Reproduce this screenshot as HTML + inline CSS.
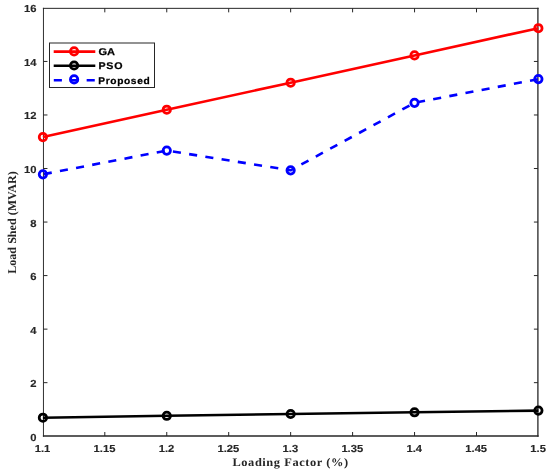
<!DOCTYPE html>
<html>
<head>
<meta charset="utf-8">
<style>
html,body{margin:0;padding:0;background:#fff;width:550px;height:473px;overflow:hidden;}
svg{display:block;} text{text-rendering:geometricPrecision;}
.tk{font-family:"Liberation Sans",Arial,sans-serif;font-weight:bold;font-size:10.2px;fill:#262626;stroke:#262626;stroke-width:0.15px;}
.lg{font-family:"Liberation Sans",Arial,sans-serif;font-weight:bold;font-size:9.7px;fill:#000;stroke:#000;stroke-width:0.25px;}
.ax{font-family:"Liberation Serif","Times New Roman",serif;font-weight:bold;font-size:12px;fill:#262626;}
</style>
</head>
<body>
<svg width="550" height="473" viewBox="0 0 550 473">
<rect x="0" y="0" width="550" height="473" fill="#fff"/>

<!-- axes box -->
<g stroke="#262626" fill="none">
<line x1="43.46" y1="7.85" x2="43.46" y2="436.7" stroke-width="0.95"/>
<line x1="42.9" y1="8.35" x2="538.6" y2="8.35" stroke-width="1"/>
<line x1="42.9" y1="436" x2="538.6" y2="436" stroke-width="1.35"/>
<line x1="537.9" y1="7.85" x2="537.9" y2="436.7" stroke-width="1.3"/>
<path stroke-width="1" d="M104.80,436v-4M166.75,436v-4M228.70,436v-4M290.65,436v-4M352.60,436v-4M414.55,436v-4M476.50,436v-4M104.80,8.35v4M166.75,8.35v4M228.70,8.35v4M290.65,8.35v4M352.60,8.35v4M414.55,8.35v4M476.50,8.35v4M43.46,382.66h4M43.46,329.13h4M43.46,275.59h4M43.46,222.06h4M43.46,168.52h4M43.46,114.98h4M43.46,61.45h4M537.9,382.66h-4M537.9,329.13h-4M537.9,275.59h-4M537.9,222.06h-4M537.9,168.52h-4M537.9,114.98h-4M537.9,61.45h-4"/>
</g>

<!-- data: GA -->
<polyline points="42.9,137.1 166.77,109.7 290.64,82.7 414.51,55.4 538.38,28.2" fill="none" stroke="#ff0000" stroke-width="2.6" stroke-linejoin="round"/>
<g fill="none" stroke="#ff0000" stroke-width="2.75">
<circle cx="42.9" cy="137.1" r="3.7"/><circle cx="166.77" cy="109.7" r="3.7"/><circle cx="290.64" cy="82.7" r="3.7"/><circle cx="414.51" cy="55.4" r="3.7"/><circle cx="538.38" cy="28.2" r="3.7"/>
</g>

<!-- data: PSO -->
<polyline points="42.9,417.7 166.77,415.8 290.64,414.0 414.51,412.3 538.38,410.6" fill="none" stroke="#000" stroke-width="2.6" stroke-linejoin="round"/>
<g fill="none" stroke="#000" stroke-width="2.75">
<circle cx="42.9" cy="417.7" r="3.7"/><circle cx="166.77" cy="415.8" r="3.7"/><circle cx="290.64" cy="414.0" r="3.7"/><circle cx="414.51" cy="412.3" r="3.7"/><circle cx="538.38" cy="410.6" r="3.7"/>
</g>

<!-- data: Proposed -->
<polyline points="42.9,174.3 166.77,150.55 290.64,170.3 414.51,102.8 538.38,79.1" fill="none" stroke="#0000ff" stroke-width="2.6" stroke-dasharray="8.1 8.33" stroke-dashoffset="-0.9" stroke-linejoin="round"/>
<g fill="none" stroke="#0000ff" stroke-width="2.75">
<circle cx="42.9" cy="174.3" r="3.7"/><circle cx="166.77" cy="150.55" r="3.7"/><circle cx="290.64" cy="170.3" r="3.7"/><circle cx="414.51" cy="102.8" r="3.7"/><circle cx="538.38" cy="79.1" r="3.7"/>
</g>

<!-- y tick labels -->
<g class="tk" text-anchor="end">
<text x="36.6" y="12.41" transform="translate(36.6 0) scale(1.1 1) translate(-36.6 0)">16</text>
<text x="36.6" y="65.95" transform="translate(36.6 0) scale(1.1 1) translate(-36.6 0)">14</text>
<text x="36.6" y="119.48" transform="translate(36.6 0) scale(1.1 1) translate(-36.6 0)">12</text>
<text x="36.6" y="173.02" transform="translate(36.6 0) scale(1.1 1) translate(-36.6 0)">10</text>
<text x="36.6" y="226.56" transform="translate(36.6 0) scale(1.1 1) translate(-36.6 0)">8</text>
<text x="36.6" y="280.09" transform="translate(36.6 0) scale(1.1 1) translate(-36.6 0)">6</text>
<text x="36.6" y="333.63" transform="translate(36.6 0) scale(1.1 1) translate(-36.6 0)">4</text>
<text x="36.6" y="387.16" transform="translate(36.6 0) scale(1.1 1) translate(-36.6 0)">2</text>
<text x="36.6" y="440.70" transform="translate(36.6 0) scale(1.1 1) translate(-36.6 0)">0</text>
</g>
<!-- x tick labels -->
<g class="tk" text-anchor="middle">
<text x="42.55" y="452" transform="translate(42.55 0) scale(1.1 1) translate(-42.55 0)">1.1</text>
<text x="104.50" y="452" transform="translate(104.50 0) scale(1.1 1) translate(-104.50 0)">1.15</text>
<text x="166.45" y="452" transform="translate(166.45 0) scale(1.1 1) translate(-166.45 0)">1.2</text>
<text x="228.40" y="452" transform="translate(228.40 0) scale(1.1 1) translate(-228.40 0)">1.25</text>
<text x="290.35" y="452" transform="translate(290.35 0) scale(1.1 1) translate(-290.35 0)">1.3</text>
<text x="352.30" y="452" transform="translate(352.30 0) scale(1.1 1) translate(-352.30 0)">1.35</text>
<text x="414.25" y="452" transform="translate(414.25 0) scale(1.1 1) translate(-414.25 0)">1.4</text>
<text x="476.20" y="452" transform="translate(476.20 0) scale(1.1 1) translate(-476.20 0)">1.45</text>
<text x="538.15" y="452" transform="translate(538.15 0) scale(1.1 1) translate(-538.15 0)">1.5</text>
</g>

<!-- axis titles -->
<text class="ax" x="290.3" y="466.1" text-anchor="middle" style="font-size:11.5px" textLength="107" lengthAdjust="spacing" transform="translate(290.3 0) scale(1.08 1) translate(-290.3 0)">Loading Factor (%)</text>
<text class="ax" x="0" y="0" text-anchor="middle" textLength="102.4" lengthAdjust="spacing" transform="translate(15.8 222.55) rotate(-90)">Load Shed (MVAR)</text>

<!-- legend -->
<rect x="49.5" y="43" width="105" height="44.5" fill="#fff" stroke="#262626" stroke-width="1"/>
<line x1="53.7" y1="51.6" x2="95.3" y2="51.6" stroke="#ff0000" stroke-width="2.6"/>
<circle cx="74.1" cy="51.4" r="3.7" fill="none" stroke="#ff0000" stroke-width="2.75"/>
<line x1="53.7" y1="65.7" x2="95.3" y2="65.7" stroke="#000" stroke-width="2.6"/>
<circle cx="74.1" cy="65.5" r="3.7" fill="none" stroke="#000" stroke-width="2.75"/>
<line x1="53.8" y1="80.2" x2="95.2" y2="80.2" stroke="#0000ff" stroke-width="2.6" stroke-dasharray="8.1 8.33"/>
<circle cx="74.1" cy="79.4" r="3.7" fill="none" stroke="#0000ff" stroke-width="2.75"/>
<g class="lg">
<text x="98.5" y="55" transform="translate(98.5 0) scale(1.14 1) translate(-98.5 0)">GA</text>
<text x="98.5" y="69.3" textLength="21.8" lengthAdjust="spacing" transform="translate(98.5 0) scale(1.1 1) translate(-98.5 0)">PSO</text>
<text x="98.3" y="84" textLength="48.9" lengthAdjust="spacing" transform="translate(98.3 0) scale(1.05 1) translate(-98.3 0)">Proposed</text>
</g>
</svg>
</body>
</html>
